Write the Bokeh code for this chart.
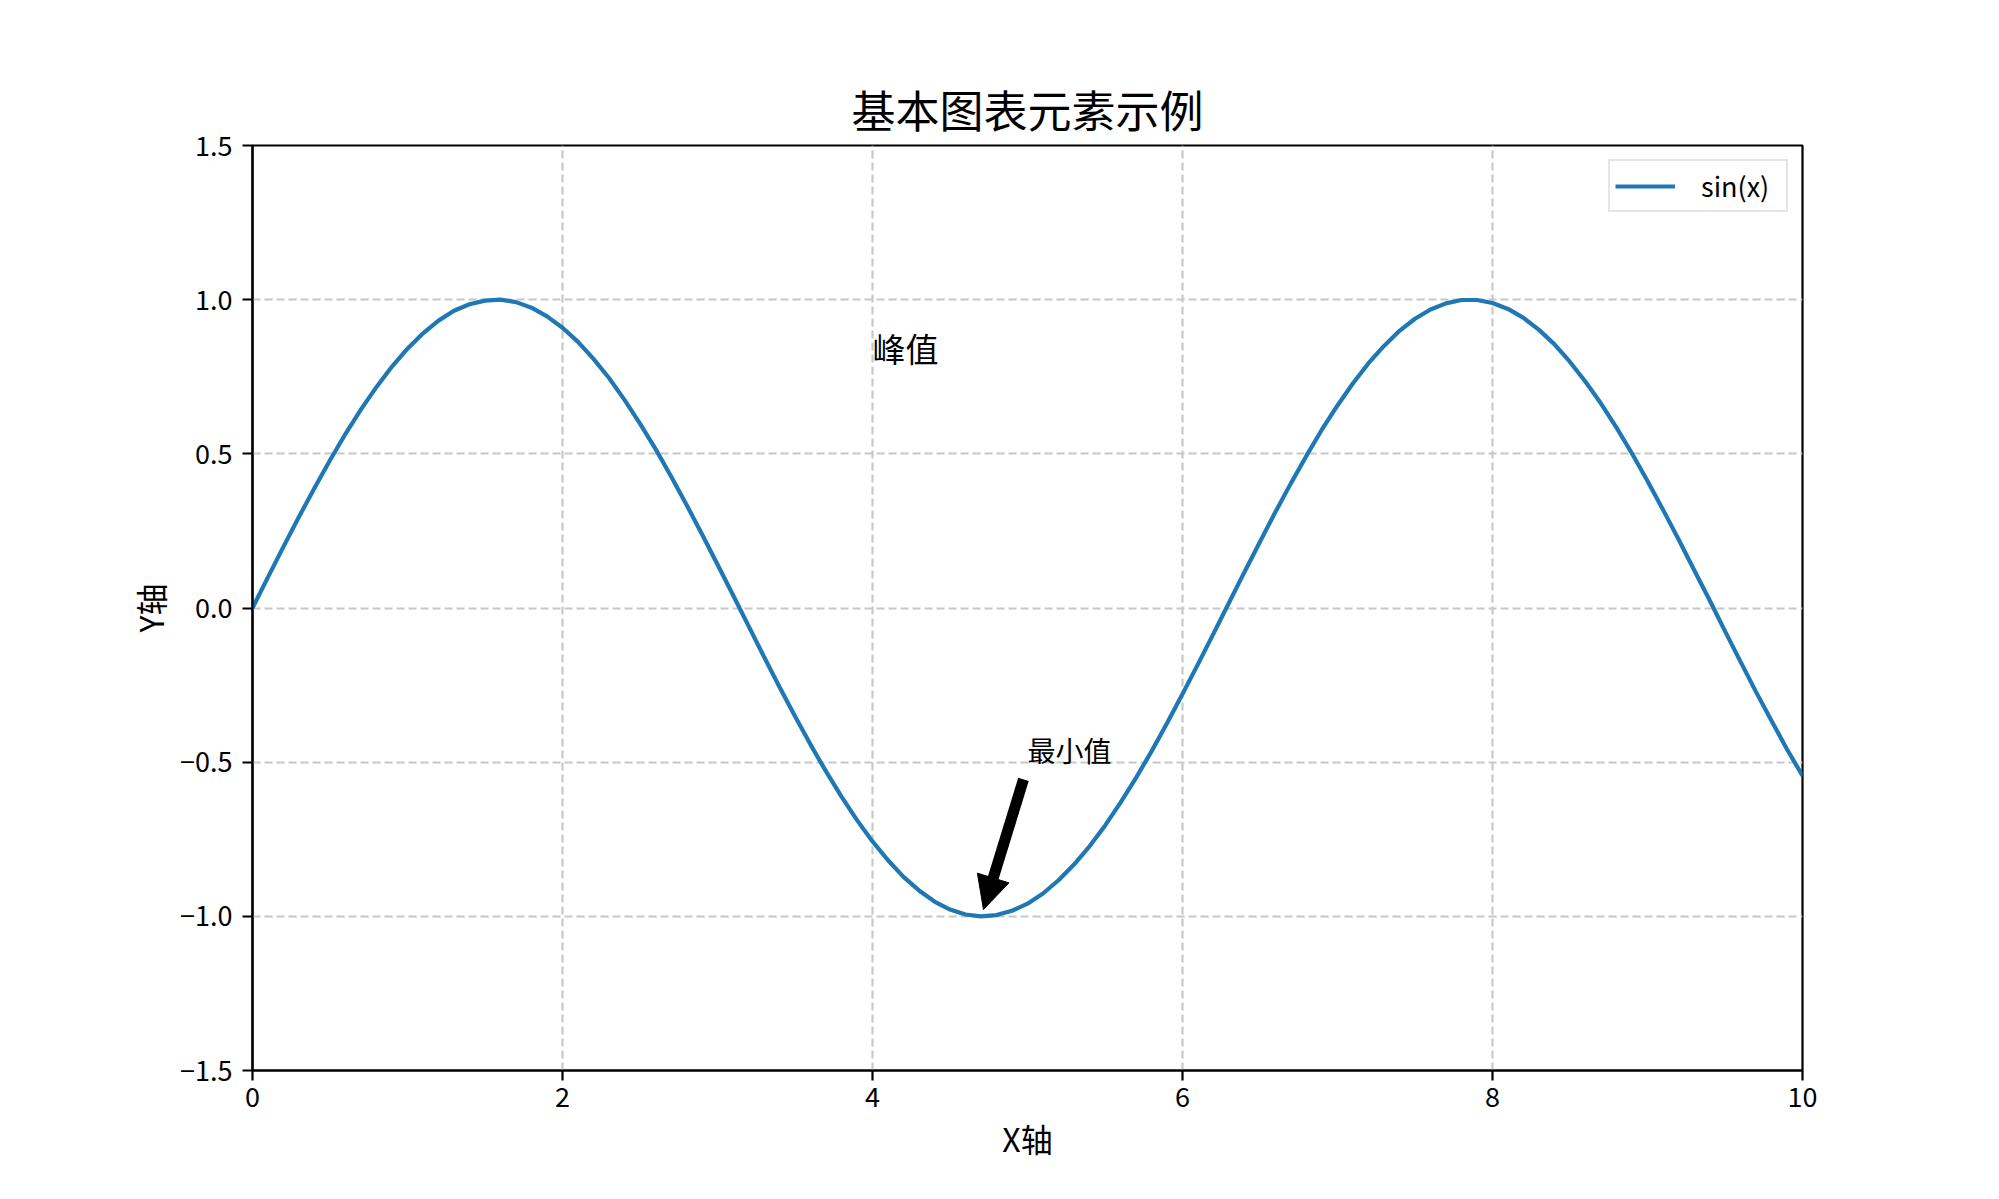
from bokeh.plotting import figure
from bokeh.models import Range1d, FixedTicker, Arrow, NormalHead, Label
from bokeh.embed import file_html
from bokeh.resources import INLINE

# ---- data ----
x_vals = [0.0, 0.1, 0.2, 0.3, 0.4, 0.5, 0.6, 0.7, 0.8, 0.9,
          1.0, 1.1, 1.2, 1.3, 1.4, 1.5, 1.6, 1.7, 1.8, 1.9,
          2.0, 2.1, 2.2, 2.3, 2.4, 2.5, 2.6, 2.7, 2.8, 2.9,
          3.0, 3.1, 3.2, 3.3, 3.4, 3.5, 3.6, 3.7, 3.8, 3.9,
          4.0, 4.1, 4.2, 4.3, 4.4, 4.5, 4.6, 4.7, 4.8, 4.9,
          5.0, 5.1, 5.2, 5.3, 5.4, 5.5, 5.6, 5.7, 5.8, 5.9,
          6.0, 6.1, 6.2, 6.3, 6.4, 6.5, 6.6, 6.7, 6.8, 6.9,
          7.0, 7.1, 7.2, 7.3, 7.4, 7.5, 7.6, 7.7, 7.8, 7.9,
          8.0, 8.1, 8.2, 8.3, 8.4, 8.5, 8.6, 8.7, 8.8, 8.9,
          9.0, 9.1, 9.2, 9.3, 9.4, 9.5, 9.6, 9.7, 9.8, 9.9, 10.0]
sin_vals = [0.000, 0.100, 0.199, 0.296, 0.389, 0.479, 0.565, 0.644, 0.717, 0.783,
            0.841, 0.891, 0.932, 0.964, 0.985, 0.997, 1.000, 0.992, 0.974, 0.946,
            0.909, 0.863, 0.808, 0.746, 0.675, 0.598, 0.516, 0.427, 0.335, 0.239,
            0.141, 0.042, -0.058, -0.158, -0.256, -0.351, -0.443, -0.530, -0.612, -0.688,
            -0.757, -0.818, -0.872, -0.916, -0.952, -0.978, -0.994, -1.000, -0.996, -0.982,
            -0.959, -0.926, -0.883, -0.832, -0.773, -0.706, -0.631, -0.551, -0.465, -0.374,
            -0.279, -0.182, -0.083, 0.017, 0.117, 0.215, 0.312, 0.405, 0.494, 0.579,
            0.657, 0.729, 0.794, 0.850, 0.899, 0.938, 0.968, 0.988, 0.999, 0.999,
            0.989, 0.970, 0.941, 0.902, 0.855, 0.798, 0.734, 0.663, 0.585, 0.501,
            0.412, 0.319, 0.223, 0.124, 0.026, -0.075, -0.174, -0.272, -0.366, -0.458, -0.544]
series_label = "sin(x)"

x_ticks = [0, 2, 4, 6, 8, 10]
x_tick_labels = ["0", "2", "4", "6", "8", "10"]
y_ticks = [-1.5, -1.0, -0.5, 0.0, 0.5, 1.0, 1.5]
y_tick_labels = ["\u22121.5", "\u22121.0", "\u22120.5", "0.0", "0.5", "1.0", "1.5"]

title_text = "基本图表元素示例"
x_label = "X轴"
y_label = "Y轴"

peak_text = "峰值"
peak_text_pos = (4.0, 0.8)
min_text = "最小值"
min_text_pos = (5.0, -0.5)
arrow_tail = (4.974, -0.556)
arrow_tip = (4.716, -0.978)

FONT = "Noto Sans CJK SC"
LINE_COLOR = "#1f77b4"

p = figure(
    output_backend="svg", toolbar_location=None,
    frame_width=1550, frame_height=925,
    min_border_left=252, min_border_top=145,
    min_border_right=181, min_border_bottom=113,
    x_range=Range1d(0, 10), y_range=Range1d(-1.5, 1.5),
    title=title_text,
    background_fill_color="white", border_fill_color="white",
)

p.title.align = "center"
p.title.text_font = FONT
p.title.text_font_size = "44px"
p.title.text_font_style = "normal"
p.title.text_color = "black"
p.title.standoff = 10

p.outline_line_color = "black"
p.outline_line_width = 2.2

for ax, ticks, labels in ((p.xaxis[0], x_ticks, x_tick_labels),
                          (p.yaxis[0], y_ticks, y_tick_labels)):
    ax.ticker = FixedTicker(ticks=ticks)
    ax.major_label_overrides = {t: l for t, l in zip(ticks, labels)}
    ax.major_label_text_font = FONT
    ax.major_label_text_font_size = "27px"
    ax.major_label_text_color = "black"
    ax.major_tick_out = 10
    ax.major_tick_in = 0
    ax.major_tick_line_width = 2.2
    ax.major_tick_line_color = "black"
    ax.minor_tick_line_color = None
    ax.axis_line_color = "black"
    ax.axis_line_width = 2.2
    ax.axis_label_text_font = FONT
    ax.axis_label_text_font_size = "32px"
    ax.axis_label_text_font_style = "normal"
    ax.axis_label_text_color = "black"

p.xaxis[0].axis_label = x_label
p.yaxis[0].axis_label = y_label
p.xaxis[0].major_label_standoff = 6
p.yaxis[0].major_label_standoff = 10
p.xaxis[0].axis_label_standoff = 5
p.yaxis[0].axis_label_standoff = 4

for g in (p.xgrid[0], p.ygrid[0]):
    g.grid_line_color = "#c8c8c8"
    g.grid_line_width = 2.2
    g.grid_line_dash = "8 4"

p.line(x_vals, sin_vals, line_color=LINE_COLOR, line_width=4.2, legend_label=series_label)

p.add_layout(Label(x=peak_text_pos[0], y=peak_text_pos[1], text=peak_text,
                   text_font=FONT, text_font_size="33px", text_color="black",
                   text_baseline="alphabetic", text_align="left", y_offset=13))
p.add_layout(Label(x=min_text_pos[0], y=min_text_pos[1], text=min_text,
                   text_font=FONT, text_font_size="28px", text_color="black",
                   text_baseline="alphabetic", text_align="left", y_offset=12))
p.add_layout(Arrow(x_start=arrow_tail[0], y_start=arrow_tail[1],
                   x_end=arrow_tip[0], y_end=arrow_tip[1],
                   line_color="black", line_width=11,
                   end=NormalHead(size=33, fill_color="black", line_color="black", line_width=1)))

lg = p.legend[0]
lg.location = "top_right"
lg.margin = 14
lg.padding = 5
lg.spacing = 0
lg.glyph_width = 60
lg.glyph_height = 26
lg.label_standoff = 26
lg.label_width = 80
lg.label_height = 26
lg.label_text_font = FONT
lg.label_text_font_size = "27px"
lg.label_text_color = "black"
lg.label_text_baseline = "middle"
lg.border_line_color = "#cccccc"
lg.border_line_width = 2.2
lg.background_fill_color = "white"
lg.background_fill_alpha = 0.8

open("out.html", "w").write(file_html(p, INLINE))
